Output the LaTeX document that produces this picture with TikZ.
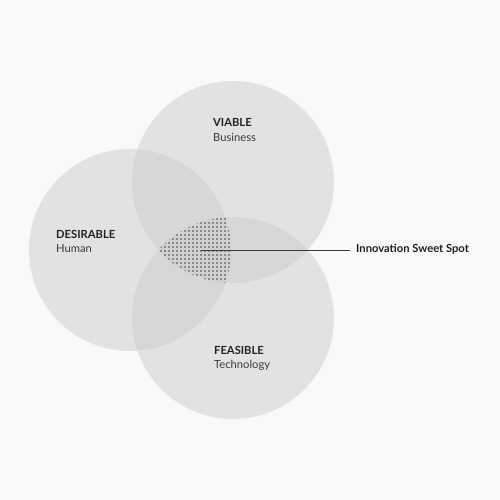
\documentclass[tikz,border=0pt]{standalone}
\usepackage{fontspec}
\setmainfont{Lato}
\usepackage{tikz}
\usetikzlibrary{positioning}
\definecolor{bgc}{HTML}{F9F9F9}
\definecolor{vennc}{HTML}{CDCDCD}
\definecolor{dotc}{HTML}{8A8A8A}
\definecolor{txtc}{HTML}{222222}
\definecolor{subc}{HTML}{3A3A3A}

\begin{document}
\begin{tikzpicture}[x=1pt, y=-1pt,
    venn/.style={circle, minimum size=202pt, inner sep=0, fill=vennc, fill opacity=0.5},
    head/.style={anchor=base west, inner sep=0, text=txtc, font=\fontsize{11.2}{13}\selectfont\bfseries},
    sub/.style={anchor=base west, inner sep=0, text=subc, font=\fontsize{11.2}{13}\selectfont}]
      \useasboundingbox (0,0) rectangle (500,500);
      \fill[bgc] (0,0) rectangle (500,500);
      \node[venn] (viable) at (233,182) {};
      \node[venn] (desirable) at (130,250) {};
      \node[venn] (feasible) at (233,318) {};
      % dotted sweet spot
      \begin{scope}
        \clip (viable.center) circle[radius=101pt];
        \clip (desirable.center) circle[radius=101pt];
        \clip (feasible.center) circle[radius=101pt];
        \foreach \i in {153,157,...,237}
          \foreach \j in {207,211,...,295}
            \fill[dotc] (\i-0.55,\j-0.55) rectangle +(1.1,1.1);
      \end{scope}
      \node[head] (viabletitle) at (213,127) {VIABLE};
      \node[sub] (viablesub) at (213,141) {Business};
      \node[head] (desirabletitle) at (56,238) {DESIRABLE};
      \node[sub] (desirablesub) at (56,252) {Human};
      \node[head] (feasibletitle) at (214,354) {FEASIBLE};
      \node[sub] (feasiblesub) at (214,368) {Technology};
      \coordinate (spot) at (201,250);
      \node[head, inner xsep=6pt] (spotlabel) at (350,252) {Innovation Sweet Spot};
      \draw[color=subc, line width=0.9pt] (spot) -- (spot -| spotlabel.west);
\end{tikzpicture}
\end{document}
